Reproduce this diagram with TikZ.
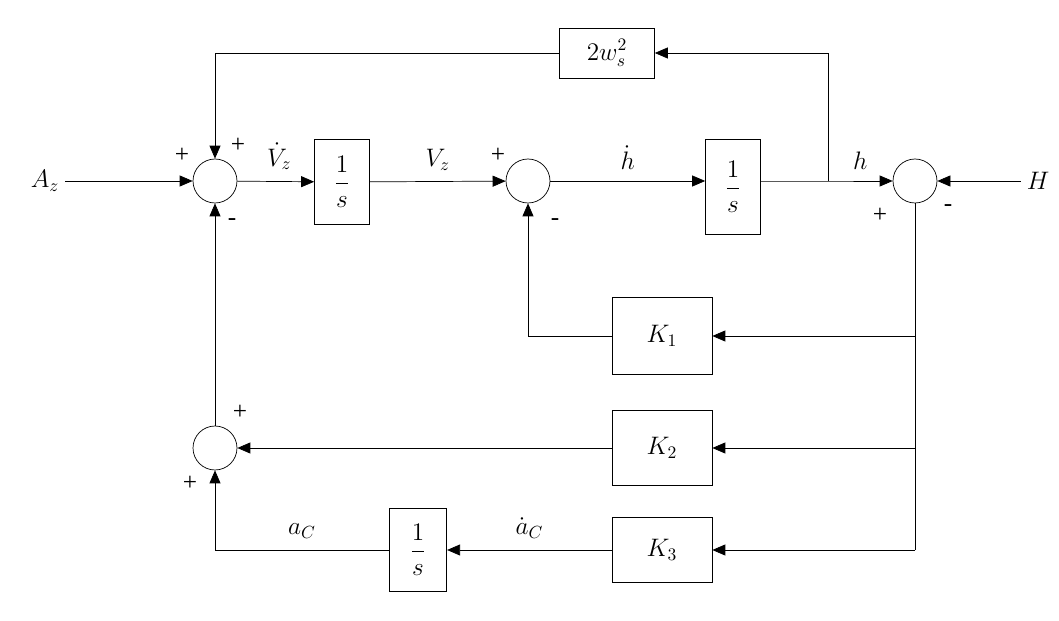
\documentclass[tikz,border=0pt]{standalone}
\usepackage{amsmath}
\usepackage{fontspec}
\setmainfont{Liberation Serif}
\usetikzlibrary{arrows.meta,positioning}

\begin{document}
\begin{tikzpicture}[x=0.02cm,y=-0.02cm,font=\Large,
	block/.style={rectangle,draw,thin,inner sep=0pt},
	sumpt/.style={circle,draw,thin,minimum size=0.88cm,inner sep=0pt},
	sig/.style={-{Triangle[length=2.6mm,width=2.2mm]},thin}]
		\useasboundingbox (0,0) rectangle (1059,621);
		%%summing points
		\node at (215,181) [sumpt] (s1) {};
		\node at (528,181) [sumpt] (s2) {};
		\node at (915,181) [sumpt] (s3) {};
		\node at (215,448) [sumpt] (s4) {};
		%%blocks
		\node at (607,53) [block,minimum width=1.9cm,minimum height=1cm] (g2w) {$2w_s^2$};
		\node at (342,182) [block,minimum width=1.1cm,minimum height=1.7cm] (int1) {$\dfrac{1}{s}$};
		\node at (733,187) [block,minimum width=1.1cm,minimum height=1.9cm] (int2) {$\dfrac{1}{s}$};
		\node at (662,336) [block,minimum width=2cm,minimum height=1.55cm] (k1) {$K_1$};
		\node at (662,448) [block,minimum width=2cm,minimum height=1.5cm] (k2) {$K_2$};
		\node at (662,550) [block,minimum width=2cm,minimum height=1.3cm] (k3) {$K_3$};
		\node at (418,550) [block,minimum width=1.15cm,minimum height=1.65cm] (int3) {$\dfrac{1}{s}$};
		%%inputs
		\node at (45,181) (az) {$A_z$};
		\node at (1038,181) (hin) {$H$};
		\coordinate (tap) at (828,181);
		\coordinate (rgt) at (915,550);
		%%forward path
		\draw [sig] (az) -- (s1);
		\draw [sig] (s1) -- node[above=3pt,xshift=2pt]{$\dot V_z$} (int1);
		\draw [sig] (int1) -- node[above=3pt]{$V_z$} (s2);
		\draw [sig] (s2) -- node[above=3pt]{$\dot h$} (int2.west |- s2);
		\draw [sig] (int2.east |- s2) -- (tap) -- node[above=3pt]{$h$} (s3);
		\draw [sig] (hin) -- (s3);
		%%feedback paths
		\draw [sig] (tap) -- (tap |- g2w) -- (g2w);
		\draw [sig] (g2w) -- (s1 |- g2w) -- (s1);
		\draw [thin] (s3) -- (rgt);
		\draw [sig] (s3 |- k1) -- (k1);
		\draw [sig] (s3 |- k2) -- (k2);
		\draw [sig] (rgt) -- (k3);
		\draw [sig] (k1) -- (s2 |- k1) -- (s2);
		\draw [sig] (k2) -- (s4);
		\draw [sig] (k3) -- node[above=3pt]{$\dot a_C$} (int3);
		\draw [sig] (int3) -- node[above=3pt]{$a_C$} (s4 |- int3) -- (s4);
		\draw [sig] (s4) -- (s1);
		%%signs
		\node at (182,155) {+};
		\node at (238,145) {+};
		\node at (232,222) {-};
		\node at (498,155) {+};
		\node at (555,222) {-};
		\node at (880,215) {+};
		\node at (948,208) {-};
		\node at (240,412) {+};
		\node at (190,483) {+};
	\end{tikzpicture}
\end{document}
